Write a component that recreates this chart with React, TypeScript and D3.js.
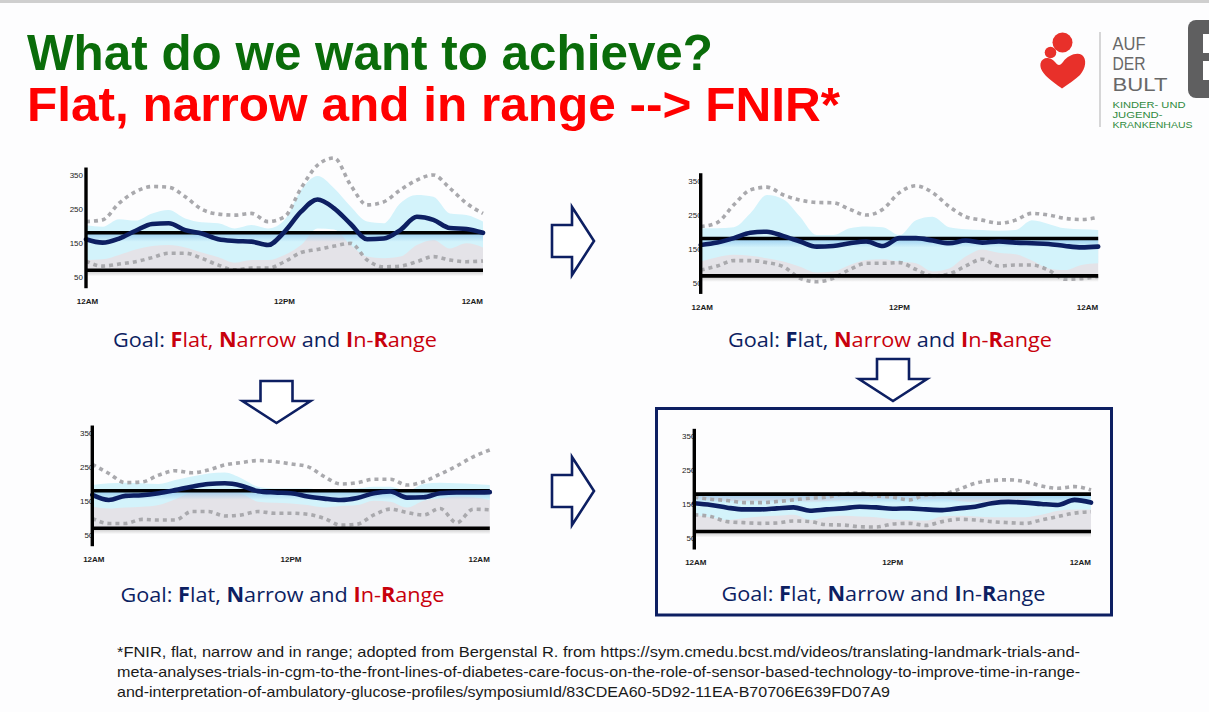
import React from 'react';
import * as d3 from 'd3';

// ---------- data ----------
const HOURS = [0, 1, 2, 3, 4, 5, 6, 7, 8, 9, 10, 11, 12, 13, 14, 15, 16, 17, 18, 19, 20, 21, 22, 23, 24];
const TARGET_LOW = 70;
const TARGET_HIGH = 180;
const Y_TICKS = [350, 250, 150, 50];
const X_TICKS: [number, string][] = [[0, '12AM'], [12, '12PM'], [24, '12AM']];

// Chart 1 (top-left)
const c1Median = [161, 151, 163, 186, 206, 208, 188, 178, 161, 156, 154, 144, 183, 242, 278, 252, 206, 161, 163, 188, 227, 218, 194, 191, 180];
const c1P75 = [203, 198, 220, 216, 237, 247, 222, 211, 208, 193, 203, 193, 218, 306, 347, 311, 257, 213, 208, 267, 291, 286, 237, 232, 213];
const c1P25 = [100, 102, 115, 131, 141, 144, 137, 122, 108, 92, 100, 100, 115, 144, 193, 190, 144, 110, 105, 110, 144, 159, 134, 149, 137];
const c1P90 = [213, 218, 267, 301, 316, 314, 286, 249, 235, 232, 237, 213, 227, 311, 379, 400, 320, 262, 271, 306, 335, 350, 311, 267, 237];
const c1P10 = [97, 82, 88, 95, 107, 120, 120, 105, 85, 71, 76, 76, 95, 122, 131, 141, 149, 100, 80, 82, 95, 110, 100, 95, 97];

// Chart 2 (top-right)
const c2Median = [161, 168, 181, 197, 200, 187, 171, 156, 158, 166, 171, 158, 181, 181, 174, 166, 174, 168, 171, 168, 166, 164, 158, 154, 156];
const c2P75 = [210, 210, 213, 254, 308, 295, 244, 190, 190, 210, 215, 213, 190, 234, 244, 213, 207, 205, 203, 205, 234, 223, 210, 207, 205];
const c2P25 = [112, 125, 132, 129, 122, 112, 97, 80, 83, 102, 117, 119, 112, 107, 83, 92, 127, 148, 138, 134, 115, 92, 87, 102, 107];
const c2P90 = [215, 227, 279, 323, 331, 308, 293, 286, 285, 266, 249, 266, 315, 335, 315, 274, 244, 234, 225, 234, 254, 249, 239, 236, 242];
const c2P10 = [87, 99, 115, 115, 109, 97, 63, 53, 63, 89, 107, 107, 109, 89, 70, 76, 99, 119, 99, 102, 102, 87, 60, 62, 68];

// Chart 3 (bottom-left)
const c3Median = [168, 153, 165, 167, 173, 182, 192, 200, 202, 195, 179, 175, 173, 163, 157, 153, 159, 173, 178, 160, 161, 173, 175, 175, 176];
const c3P75 = [197, 202, 204, 202, 200, 212, 222, 231, 234, 217, 192, 187, 187, 187, 182, 184, 187, 192, 192, 180, 200, 204, 202, 200, 197];
const c3P25 = [133, 128, 131, 133, 138, 155, 175, 180, 177, 171, 148, 145, 143, 138, 131, 135, 138, 151, 148, 131, 151, 158, 163, 161, 153];
const c3P90 = [258, 231, 204, 206, 226, 239, 233, 241, 256, 263, 269, 266, 259, 251, 222, 200, 204, 214, 214, 197, 207, 229, 253, 280, 300];
const c3P10 = [99, 84, 84, 96, 94, 94, 119, 119, 106, 109, 119, 114, 114, 111, 99, 79, 82, 109, 126, 116, 109, 128, 86, 126, 124];

// Chart 4 (bottom-right)
const c4Median = [153, 148, 140, 135, 135, 138, 141, 131, 135, 138, 143, 141, 137, 138, 135, 133, 138, 143, 153, 157, 155, 151, 148, 163, 155];
const c4P75 = [165, 163, 160, 160, 160, 162, 162, 158, 160, 163, 165, 166, 166, 166, 165, 166, 160, 157, 157, 158, 165, 175, 176, 176, 172];
const c4P25 = [119, 112, 104, 109, 114, 116, 119, 104, 112, 116, 114, 112, 106, 104, 102, 114, 116, 114, 112, 112, 112, 119, 131, 135, 135];
const c4P90 = [171, 165, 161, 155, 155, 158, 163, 168, 171, 180, 184, 175, 171, 163, 177, 180, 194, 212, 220, 222, 217, 204, 197, 202, 192];
const c4P10 = [119, 114, 99, 96, 94, 95, 101, 99, 90, 89, 84, 83, 92, 94, 88, 99, 106, 104, 99, 96, 94, 104, 114, 124, 128];

const TITLE_1 = 'What do we want to achieve?';
const TITLE_2 = 'Flat, narrow and in range --> FNIR*';
const LOGO_NAME = ['AUF', 'DER', 'BULT'];
const LOGO_SUB = ['KINDER- UND', 'JUGEND-', 'KRANKENHAUS'];
const FOOTNOTE = [
  '*FNIR, flat, narrow and in range; adopted from Bergenstal R. from https://sym.cmedu.bcst.md/videos/translating-landmark-trials-and-',
  'meta-analyses-trials-in-cgm-to-the-front-lines-of-diabetes-care-focus-on-the-role-of-sensor-based-technology-to-improve-time-in-range-',
  'and-interpretation-of-ambulatory-glucose-profiles/symposiumId/83CDEA60-5D92-11EA-B70706E639FD07A9',
];

// ---------- styles ----------
const NAVY = '#0d1f62';
const RED = '#c8000c';
const CYAN = '#d3f3fb';
const GREY_BAND = '#e4e3e8';
const DOT = '#a9a9ad';

type AGPProps = {
  x0: number; y50: number; width: number;
  median: number[]; p10: number[]; p25: number[]; p75: number[]; p90: number[];
  labelGap: number; id: string;
};

function AGP({ x0, y50, width, median, p10, p25, p75, p90, labelGap, id }: AGPProps) {
  const x = d3.scaleLinear().domain([0, 24]).range([x0, x0 + width]);
  const y = d3.scaleLinear().domain([50, 350]).range([y50, y50 - 102]);
  const curve = d3.curveMonotoneX;
  const band = d3.area<number>()
    .x((_, i) => x(HOURS[i]))
    .y0((_, i) => y(p25[i]))
    .y1((d) => y(d))
    .curve(curve);
  const line = d3.line<number>()
    .x((_, i) => x(HOURS[i]))
    .y((d) => y(d))
    .curve(curve);
  const xEnd = x(24);
  return (
    <g>
      <rect x={x0} y={y(TARGET_HIGH)} width={xEnd - x0} height={y(TARGET_LOW) - y(TARGET_HIGH)} fill={GREY_BAND} />
      <path d={band(p75) || ''} fill={CYAN} />
      <rect x={x0} y={y(TARGET_HIGH) + 1} width={xEnd - x0} height={8} fill="url(#glow)" />
      <rect x={x0} y={y(TARGET_LOW) + 1} width={xEnd - x0} height={5} fill="url(#shade)" />
      <path d={line(p90) || ''} fill="none" stroke={DOT} strokeWidth={3.6} strokeDasharray="4 4" />
      <path d={line(p10) || ''} fill="none" stroke={DOT} strokeWidth={3.6} strokeDasharray="4 4" />
      <line x1={x0} x2={xEnd} y1={y(TARGET_HIGH)} y2={y(TARGET_HIGH)} stroke="#000" strokeWidth={3.6} />
      <line x1={x0} x2={xEnd} y1={y(TARGET_LOW)} y2={y(TARGET_LOW)} stroke="#000" strokeWidth={3.6} />
      <path d={line(median) || ''} fill="none" stroke={NAVY} strokeWidth={4.6} strokeLinejoin="round" strokeLinecap="round" />
      {Y_TICKS.map((t) => (
        <text key={id + 'y' + t} x={x0 - labelGap} y={y(t) + 3} textAnchor="end" fontSize={8}
          fontFamily="Liberation Sans, Arial, sans-serif" fill="#222">{t}</text>
      ))}
      <line x1={x0} x2={x0} y1={y(372)} y2={y(17)} stroke="#000" strokeWidth={3.4} />
      {X_TICKS.map(([h, label], i) => (
        <text key={id + 'x' + i} x={x(h) + (i === 0 ? 1.5 : 0)} y={y50 + 27}
          textAnchor={i === 2 ? 'end' : 'middle'}
          fontSize={8} fontWeight={700} fontFamily="Liberation Sans, Arial, sans-serif" fill="#1a1a1a">{label}</text>
      ))}
    </g>
  );
}

function Caption({ cx, y, fRed, nRed, irRed }: { cx: number; y: number; fRed: boolean; nRed: boolean; irRed: boolean }) {
  const f = fRed ? RED : NAVY;
  const n = nRed ? RED : NAVY;
  const r = irRed ? RED : NAVY;
  return (
    <text x={cx} y={y} textAnchor="middle" fontSize={20.5} fontFamily="Open Sans, Noto Sans, sans-serif"
      textLength={324} lengthAdjust="spacingAndGlyphs" fill={NAVY}>
      <tspan>Goal: </tspan>
      <tspan fill={f} fontWeight={700}>F</tspan>
      <tspan fill={f}>lat, </tspan>
      <tspan fill={n} fontWeight={700}>N</tspan>
      <tspan fill={n}>arrow</tspan>
      <tspan> and </tspan>
      <tspan fill={r} fontWeight={700}>I</tspan>
      <tspan fill={r}>n-</tspan>
      <tspan fill={r} fontWeight={700}>R</tspan>
      <tspan fill={r}>ange</tspan>
    </text>
  );
}

function Arrow({ x, y, rotate }: { x: number; y: number; rotate: number }) {
  const pts: [number, number][] = [[0, -16], [20, -16], [20, -34], [42, 0], [20, 34], [20, 16], [0, 16]];
  const d = 'M' + pts.map((p) => p.join(',')).join('L') + 'Z';
  return <path d={d} transform={`translate(${x},${y}) rotate(${rotate})`} fill="#fff" stroke={NAVY} strokeWidth={2.6} strokeLinejoin="miter" />;
}

function Logo() {
  return (
    <g>
      <circle cx={1062.5} cy={42.5} r={10} fill="#e8302a" />
      <circle cx={1050.5} cy={52.5} r={5.8} fill="#e8302a" />
      <path d="M1062,88.5 C1052,81 1039,73 1040.5,63.5 C1042,57 1050,56 1055,62 C1058,66 1060,66 1063,62 C1068,55 1077,52 1082,55 C1087,59 1086,68 1080,75 C1075,80 1068,84 1062,88.5 Z" fill="#e8302a" />
      <line x1={1100} x2={1100} y1={32} y2={127} stroke="#bdbdbd" strokeWidth={1.2} />
      {LOGO_NAME.map((t, i) => (
        <text key={t} x={1112.5} y={49.5 + i * 20.5} fontSize={18} fontWeight={500}
          fontFamily="Liberation Sans, Arial, sans-serif" fill="#686868"
          textLength={t === 'BULT' ? 55 : 33} lengthAdjust="spacingAndGlyphs">{t}</text>
      ))}
      {LOGO_SUB.map((t, i) => (
        <text key={t} x={1112.5} y={107.5 + i * 10} fontSize={8.8} fontFamily="Liberation Sans, Arial, sans-serif" fill="#2f8a3d"
          textLength={t === 'KINDER- UND' ? 73 : t === 'JUGEND-' ? 50 : 80} lengthAdjust="spacingAndGlyphs">{t}</text>
      ))}
      <rect x={1188} y={20} width={40} height={78} rx={8} fill="#5f5f60" />
      <rect x={1203} y={34} width={10} height={19} fill="#fff" />
      <rect x={1203} y={61} width={10} height={19} fill="#fff" />
    </g>
  );
}

export default function App() {
  const W = 1209;
  const H = 712;
  return (
    <svg width={W} height={H} viewBox={`0 0 ${W} ${H}`} style={{ position: 'absolute', left: 0, top: 0 }}>
      <defs>
        <linearGradient id="glow" x1="0" y1="0" x2="0" y2="1">
          <stop offset="0" stopColor="#8ec6ee" stopOpacity={0.75} />
          <stop offset="1" stopColor="#8ec6ee" stopOpacity={0} />
        </linearGradient>
        <linearGradient id="shade" x1="0" y1="0" x2="0" y2="1">
          <stop offset="0" stopColor="#9a9a9a" stopOpacity={0.5} />
          <stop offset="1" stopColor="#9a9a9a" stopOpacity={0} />
        </linearGradient>
      </defs>
      <rect width={W} height={H} fill="#fdfdfe" />
      <line x1={0} x2={W} y1={1.5} y2={1.5} stroke="#cfcfcf" strokeWidth={3} />

      <text x={27} y={70} fontSize={50} fontWeight={700} fontFamily="Liberation Sans, Arial, sans-serif" fill="#0a6c0a"
        textLength={686} lengthAdjust="spacingAndGlyphs">{TITLE_1}</text>
      <text x={27} y={120.5} fontSize={49} fontWeight={700} fontFamily="Liberation Sans, Arial, sans-serif" fill="#ff0000"
        textLength={813} lengthAdjust="spacingAndGlyphs">{TITLE_2}</text>

      <Logo />

      <AGP id="c1" x0={86} y50={277} width={397} median={c1Median} p10={c1P10} p25={c1P25} p75={c1P75} p90={c1P90} labelGap={3} />
      <AGP id="c2" x0={700.7} y50={282.7} width={397.5} median={c2Median} p10={c2P10} p25={c2P25} p75={c2P75} p90={c2P90} labelGap={-1} />
      <AGP id="c3" x0={92.3} y50={535} width={397.5} median={c3Median} p10={c3P10} p25={c3P25} p75={c3P75} p90={c3P90} labelGap={-1} />
      <AGP id="c4" x0={694.3} y50={538.3} width={396.7} median={c4Median} p10={c4P10} p25={c4P25} p75={c4P75} p90={c4P90} labelGap={-1} />

      <Arrow x={552} y={241} rotate={0} />
      <Arrow x={552} y={491} rotate={0} />
      <Arrow x={276.5} y={381} rotate={90} />
      <Arrow x={893} y={359} rotate={90} />

      <rect x={656.5} y={408.5} width={455} height={206.5} fill="none" stroke={NAVY} strokeWidth={3} />

      <Caption cx={275} y={346.5} fRed={true} nRed={true} irRed={true} />
      <Caption cx={890} y={346.5} fRed={false} nRed={true} irRed={true} />
      <Caption cx={282.5} y={601.5} fRed={false} nRed={false} irRed={true} />
      <Caption cx={883.5} y={600.5} fRed={false} nRed={false} irRed={false} />

      {FOOTNOTE.map((t, i) => (
        <text key={i} x={117} y={657 + i * 20} fontSize={14.5} fontFamily="Liberation Sans, Arial, sans-serif" fill="#1a1a1a"
          textLength={i === 2 ? 773 : 963} lengthAdjust="spacingAndGlyphs">{t}</text>
      ))}
    </svg>
  );
}
